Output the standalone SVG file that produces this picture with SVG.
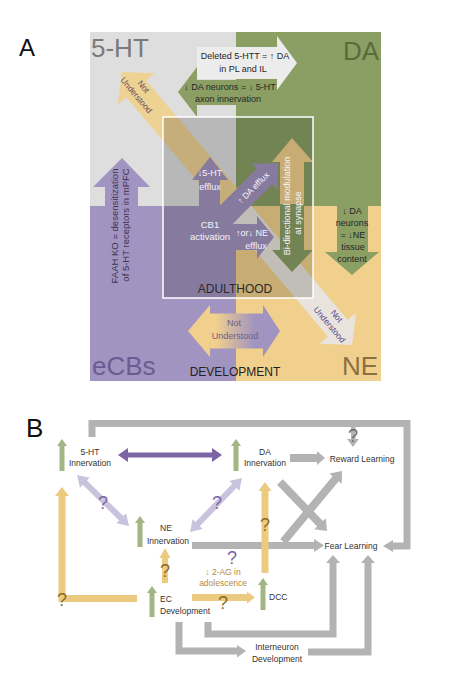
<svg xmlns="http://www.w3.org/2000/svg" width="474" height="700" viewBox="0 0 474 700">
<defs>
<style>
text{font-family:"Liberation Sans",Arial,sans-serif}
.t{font-size:9px;fill:#262626;text-anchor:middle}
.w{font-size:9px;fill:#f6f2fa;text-anchor:middle}
.b{font-size:8.5px;fill:#333;text-anchor:middle}
.bl{font-size:8.5px;fill:#333}
.q{font-size:18px;text-anchor:middle}
.qb{fill:#8c6a26}
.qp{fill:#7b65a2}
.big{font-size:26px}
.gw{fill:none;stroke:#b3b3b3;stroke-width:7}
.gh{fill:#b3b3b3}
.yw{fill:none;stroke:#ecca80;stroke-width:7}
.yh{fill:#ecca80}
.gr{fill:#a2b584}
.lav{fill:#cac3dd}
.pur{fill:#7b65a2}
.cy{fill:#f0d08c}
.cg{fill:#8b9f65}
.cp{fill:#a294c0}
.cgr{fill:#dedede}
</style>
<linearGradient id="dev" gradientUnits="userSpaceOnUse" x1="188" y1="0" x2="280" y2="0">
<stop offset="0.3" stop-color="#f0d08c"/><stop offset="0.72" stop-color="#a294c0"/>
</linearGradient>
</defs>

<text x="19" y="56" style="font-size:24px;fill:#111">A</text>
<text x="26" y="437" style="font-size:26px;fill:#111">B</text>

<g id="panelA">
<g id="quadrants">
<rect x="90" y="32" width="146" height="174" class="cgr"/>
<rect x="236" y="32" width="145" height="174" class="cg"/>
<rect x="90" y="206" width="146" height="175" class="cp"/>
<rect x="236" y="206" width="145" height="175" class="cy"/>
</g>
<g id="arrowsA">
<polygon class="cy" opacity="0.9" points="-178,-13 -22,-13 -22,-24 0,0 -22,24 -22,13 -178,13" transform="translate(122,72) rotate(229.8)"/>
<polygon fill="#e6e6e8" opacity="0.88" points="-179,-13 -22,-13 -22,-24 0,0 -22,24 -22,13 -179,13" transform="translate(352,345) rotate(49.8)"/>
<polygon class="cg" points="300,80 197,80 197,67 178,92 197,117 197,105 300,105"/>
<polygon fill="#ececec" points="197,47 277,47 277,36 297,63 277,90 277,79 197,79"/>
<polygon class="cp" points="105,215 105,187 93,187 122,158 150,187 138,187 138,215"/>
<polygon class="cg" points="337,190 368,190 368,252 379,252 352,275 325,252 337,252"/>
<polygon fill="url(#dev)" points="188,331 210,305 210,313.5 263,313.5 263,305 280,331 263,357 263,348.5 210,348.5 210,357"/>
<polygon class="cp" points="199,212 199,180 192,180 210,157 228,180 220,180 220,212"/>
<polygon class="cy" points="280,208 280,162 272,162 292,138 313,162 304,162 304,208"/>
<polygon class="cg" points="280,204 304,204 304,250 313,250 292,272 272,250 280,250"/>
<polygon class="cp" points="232,224 257,224 257,216 274,237 257,259 257,250 232,250"/>
<polygon class="cp" points="-85,-11 -19,-11 -19,-18 0,0 -19,18 -19,11 -85,11" transform="translate(278,163) rotate(-45)"/>
</g>
<rect id="adulthood" x="163" y="117" width="150" height="181" fill="#000" fill-opacity="0.17" stroke="#fff" stroke-width="1.5"/>
<g id="labelsA">
<text x="91" y="57" class="big" fill="#7a7a7a">5-HT</text>
<text x="379" y="60" class="big" fill="#5a6b3a" text-anchor="end">DA</text>
<text x="92" y="375" class="big" fill="#6b5b92">eCBs</text>
<text x="378" y="375" class="big" fill="#8a7142" text-anchor="end">NE</text>
<text x="245" y="59" class="t">Deleted 5-HTT = ↑ DA</text>
<text x="243" y="72" class="t">in PL and IL</text>
<text x="230" y="90" class="t">↓ DA neurons = ↓ 5-HT</text>
<text x="228" y="102" class="t">axon innervation</text>
<text x="352" y="214" class="t">↓ DA</text>
<text x="352" y="226" class="t">neurons</text>
<text x="353" y="238" class="t">= ↓NE</text>
<text x="353" y="250" class="t">tissue</text>
<text x="352" y="262" class="t">content</text>
<g transform="translate(122,72) rotate(49.8)">
<text x="25" y="-4" class="t" style="font-size:8.5px;fill:#6b4f5a">Not</text>
<text x="27" y="7" class="t" style="font-size:8.5px;fill:#6b4f5a">Understood</text>
</g>
<g transform="translate(352,345) rotate(49.8)">
<text x="-32" y="-4" class="t" style="font-size:8.5px;fill:#5b4b8c">Not</text>
<text x="-30" y="7" class="t" style="font-size:8.5px;fill:#5b4b8c">Understood</text>
</g>
<text transform="translate(118,226) rotate(-90)" class="t" style="font-size:9.5px;fill:#3a3550">FAAH KO = desensitization</text>
<text transform="translate(129,225) rotate(-90)" class="t" style="font-size:9.5px;fill:#3a3550">of 5-HT receptors in mPFC</text>
<text x="210" y="176" class="w">↓5-HT</text>
<text x="210" y="190" class="w">efflux</text>
<text x="210" y="228" class="w" style="font-size:9.5px">CB1</text>
<text x="210" y="240" class="w" style="font-size:9.5px">activation</text>
<text x="252" y="236" class="w">↑or↓ NE</text>
<text x="256" y="249" class="w">efflux</text>
<text transform="translate(278,163) rotate(-45)" x="-35" y="3" class="w" style="font-size:8.5px">↑ DA efflux</text>
<text transform="translate(290,206) rotate(-90)" class="w">Bi-directional modulation</text>
<text transform="translate(301,213) rotate(-90)" class="w">at synapse</text>
<text x="235" y="293" style="font-size:12px;fill:#2a2a2a;text-anchor:middle">ADULTHOOD</text>
<text x="234" y="326" class="t" style="fill:#6e6080">Not</text>
<text x="235" y="339" class="t" style="fill:#6e6080">Understood</text>
<text x="235" y="376" style="font-size:12px;fill:#222;text-anchor:middle">DEVELOPMENT</text>
</g>
</g>

<g id="connectorsB">
<path class="gw" d="M92,437 V423.5 H407 V546 H392"/>
<polygon class="gh" points="393,540 383,546 393,552"/>
<rect x="351" y="426" width="4.5" height="14" class="gh"/>
<polygon class="gh" points="347,439 359,439 353,447"/>
<polygon class="pur" points="118,455 128,448 128,452.5 212,452.5 212,448 222,455 212,462 212,457.5 128,457.5 128,462"/>
<polygon class="lav" points="0,0 11,-7 11,-3 61.8,-3 61.8,-7 72.8,0 61.8,7 61.8,3 11,3 11,7" transform="translate(77,475) rotate(44.4)"/>
<polygon class="lav" points="0,0 11,-7 11,-3 64,-3 64,-7 75,0 64,7 64,3 11,3 11,7" transform="translate(190,532) rotate(-46.1)"/>
<polygon class="gh" points="290,454 317,454 317,451 325,458 317,465 317,462 290,462"/>
<polygon class="gh" points="-68,-4 -10,-4 -10,-8 0,0 -10,8 -10,4 -68,4" transform="translate(327,531) rotate(46.2)"/>
<polygon class="gh" points="-92,-4 -10,-4 -10,-8 0,0 -10,8 -10,4 -92,4" transform="translate(342,471) rotate(-50.3)"/>
<path class="gw" d="M192,545.5 H315"/>
<polygon class="gh" points="314,539 324,545.5 314,552"/>
<path class="gw" d="M179,622 V651 H238"/>
<polygon class="gh" points="237,645 246,651 237,657.5"/>
<path class="gw" d="M208,622 V634 H333 V562"/>
<polygon class="gh" points="326,563 333,555 340,563"/>
<path class="gw" d="M308,652 H368 V562"/>
<polygon class="gh" points="361,563 368,555 375,563"/>
<path class="yw" d="M137,598.5 H62 V495"/>
<polygon class="yh" points="55,496 62,487 69,496"/>
<path class="yw" style="stroke-width:6" d="M165,583 V557"/>
<polygon class="yh" points="159.5,558 165,548 170.5,558"/>
<path class="yw" d="M192,597.5 H248"/>
<polygon class="yh" points="247,591.5 255,597.5 247,603.5"/>
<path class="yw" d="M265,573 V490"/>
<polygon class="yh" points="258.5,491 265,482 271.5,491"/>
<polygon class="gr" points="59.5,471 59.5,446 57,446 62,439 67,446 64.5,446 64.5,471"/>
<polygon class="gr" points="233.5,471 233.5,446 231,446 236,439 241,446 238.5,446 238.5,471"/>
<polygon class="gr" points="137.5,547 137.5,523 135,523 140,516 145,523 142.5,523 142.5,547"/>
<polygon class="gr" points="149.5,617 149.5,593 147,593 152,586 157,593 154.5,593 154.5,617"/>
<polygon class="gr" points="260.5,610 260.5,585 258,585 263,578 268,585 265.5,585 265.5,610"/>
<text x="353" y="442" class="q" fill="#6d6d6d">?</text>
<text x="103" y="509" class="q qp">?</text>
<text x="217" y="509" class="q qp">?</text>
<text x="232" y="564" class="q qp">?</text>
<text x="62" y="606" class="q qb">?</text>
<text x="165" y="577" class="q qb">?</text>
<text x="223" y="609" class="q qb">?</text>
<text x="265" y="531" class="q qb">?</text>
</g>

<g id="n-5ht"><text x="90" y="455" class="b">5-HT</text><text x="90" y="466" class="b">Innervation</text></g>
<g id="n-da"><text x="265" y="455" class="b">DA</text><text x="265" y="466" class="b">Innervation</text></g>
<g id="n-reward"><text x="362" y="462" class="b">Reward Learning</text></g>
<g id="n-fear"><text x="351" y="549" class="b">Fear Learning</text></g>
<g id="n-ne"><text x="166" y="531" class="b">NE</text><text x="168" y="544" class="b">Innervation</text></g>
<g id="n-ec"><text x="160" y="602" class="bl">EC</text><text x="160" y="614" class="bl">Development</text></g>
<g id="n-dcc"><text x="269" y="600" class="bl">DCC</text></g>
<g id="n-inter"><text x="277" y="650" class="b">Interneuron</text><text x="277" y="662" class="b">Development</text></g>
<g id="n-2ag"><text x="223" y="575" class="b" style="fill:#b48c45">↓ 2-AG in</text><text x="223" y="586" class="b" style="fill:#b48c45">adolescence</text></g>
</svg>
